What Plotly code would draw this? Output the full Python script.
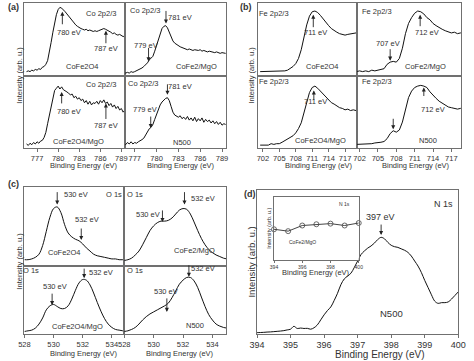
import plotly.graph_objects as go

W, H = 474, 361

# ---------------- data ----------------
co_x = [775.5 + 0.25 * i for i in range(57)]
co_cofe2o4 = [0.06, 0.07, 0.06, 0.08, 0.07, 0.09, 0.08, 0.10, 0.09, 0.12, 0.13, 0.16, 0.21, 0.32, 0.46, 0.60,
              0.73, 0.84, 0.91, 0.94, 0.93, 0.91, 0.88, 0.85, 0.82, 0.78, 0.75, 0.72, 0.70, 0.68, 0.66, 0.65,
              0.64, 0.63, 0.64, 0.62, 0.63, 0.62, 0.61, 0.62, 0.61, 0.62, 0.63, 0.64, 0.65, 0.64, 0.63, 0.61,
              0.60, 0.58, 0.59, 0.57, 0.56, 0.57, 0.55, 0.54, 0.55]
co_cofe2_mgo = [0.05, 0.04, 0.05, 0.04, 0.06, 0.05, 0.06, 0.07, 0.08, 0.10, 0.11, 0.13, 0.15, 0.18, 0.22, 0.24,
                0.27, 0.34, 0.42, 0.51, 0.59, 0.65, 0.68, 0.69, 0.66, 0.59, 0.52, 0.48, 0.45, 0.43, 0.42, 0.40,
                0.39, 0.38, 0.37, 0.36, 0.37, 0.36, 0.35, 0.36, 0.35, 0.35, 0.36, 0.34, 0.35, 0.34, 0.33, 0.34,
                0.33, 0.33, 0.32, 0.33, 0.32, 0.31, 0.32, 0.31, 0.31]
co_cofe2o4_mgo = [0.06, 0.04, 0.07, 0.05, 0.08, 0.06, 0.09, 0.07, 0.10, 0.11, 0.15, 0.22, 0.34, 0.46, 0.60, 0.72,
                  0.80, 0.83, 0.86, 0.82, 0.85, 0.81, 0.80, 0.78, 0.76, 0.74, 0.75, 0.70, 0.72, 0.68, 0.70, 0.66,
                  0.68, 0.63, 0.66, 0.61, 0.65, 0.60, 0.63, 0.62, 0.65, 0.61, 0.66, 0.63, 0.67, 0.62, 0.64, 0.59,
                  0.62, 0.57, 0.60, 0.55, 0.58, 0.53, 0.55, 0.50, 0.53]
co_n500 = [0.07, 0.05, 0.08, 0.06, 0.09, 0.06, 0.08, 0.07, 0.09, 0.10, 0.12, 0.14, 0.18, 0.22, 0.27, 0.29,
           0.33, 0.40, 0.47, 0.55, 0.60, 0.64, 0.67, 0.69, 0.70, 0.66, 0.58, 0.50, 0.46, 0.44, 0.43, 0.45,
           0.41, 0.43, 0.40, 0.44, 0.39, 0.42, 0.38, 0.43, 0.37, 0.41, 0.38, 0.42, 0.36, 0.40, 0.37, 0.39,
           0.35, 0.38, 0.34, 0.37, 0.33, 0.36, 0.32, 0.34, 0.33]

fe_x = [701.5 + 0.5 * i for i in range(36)]
fe_cofe2o4 = [0.06, 0.06, 0.06, 0.06, 0.06, 0.06, 0.06, 0.06, 0.065, 0.07, 0.08, 0.10, 0.13, 0.17, 0.24, 0.36,
              0.53, 0.70, 0.82, 0.88, 0.89, 0.87, 0.83, 0.78, 0.73, 0.69, 0.65, 0.62, 0.60, 0.58, 0.57, 0.56,
              0.57, 0.58, 0.58, 0.59]
fe_cofe2_mgo = [0.06, 0.07, 0.06, 0.07, 0.06, 0.08, 0.07, 0.08, 0.08, 0.10, 0.16, 0.19, 0.20, 0.19, 0.24, 0.38,
                0.58, 0.72, 0.80, 0.86, 0.89, 0.88, 0.85, 0.80, 0.77, 0.72, 0.69, 0.66, 0.64, 0.62, 0.61, 0.59,
                0.60, 0.58, 0.59, 0.58]
fe_cofe2o4_mgo = [0.04, 0.04, 0.05, 0.04, 0.06, 0.05, 0.06, 0.06, 0.08, 0.10, 0.12, 0.14, 0.17, 0.21, 0.27, 0.35,
                  0.48, 0.64, 0.77, 0.84, 0.86, 0.83, 0.79, 0.75, 0.70, 0.67, 0.63, 0.61, 0.58, 0.56, 0.55, 0.53,
                  0.54, 0.52, 0.53, 0.52]
fe_n500 = [0.05, 0.05, 0.06, 0.05, 0.06, 0.06, 0.07, 0.07, 0.08, 0.09, 0.13, 0.20, 0.24, 0.22, 0.25, 0.36,
           0.55, 0.70, 0.79, 0.84, 0.86, 0.87, 0.86, 0.84, 0.78, 0.73, 0.69, 0.65, 0.62, 0.59, 0.57, 0.56,
           0.55, 0.54, 0.55, 0.54]

o_x = [528.0 + 0.25 * i for i in range(29)]
o_cofe2o4 = [0.08, 0.08, 0.09, 0.11, 0.15, 0.26, 0.44, 0.62, 0.73, 0.75, 0.68, 0.53, 0.42, 0.37, 0.34, 0.32,
             0.28, 0.23, 0.19, 0.15, 0.13, 0.12, 0.11, 0.10, 0.09, 0.09, 0.08, 0.08, 0.08]
o_cofe2_mgo = [0.07, 0.08, 0.10, 0.14, 0.19, 0.27, 0.36, 0.45, 0.51, 0.55, 0.57, 0.57, 0.58, 0.61, 0.66, 0.71,
               0.73, 0.72, 0.66, 0.56, 0.45, 0.35, 0.27, 0.21, 0.17, 0.14, 0.12, 0.10, 0.09]
o_cofe2o4_mgo = [0.03, 0.04, 0.05, 0.08, 0.14, 0.23, 0.35, 0.41, 0.43, 0.40, 0.37, 0.37, 0.41, 0.51, 0.64, 0.75,
                 0.80, 0.79, 0.72, 0.60, 0.46, 0.33, 0.22, 0.14, 0.09, 0.06, 0.05, 0.04, 0.04]
o_n500 = [0.03, 0.04, 0.06, 0.09, 0.14, 0.20, 0.25, 0.29, 0.32, 0.35, 0.38, 0.41, 0.45, 0.53, 0.63, 0.73,
          0.79, 0.83, 0.83, 0.78, 0.68, 0.54, 0.40, 0.28, 0.20, 0.14, 0.11, 0.09, 0.08]

n_x = [394.0 + 0.1 * i for i in range(61)]
n_n500 = [0.005, 0.007, 0.008, 0.010, 0.011, 0.013, 0.015, 0.017, 0.020, 0.025, 0.030, 0.050, 0.035, 0.038,
          0.035, 0.036, 0.030, 0.040, 0.060, 0.095, 0.130, 0.160, 0.185, 0.230, 0.280, 0.340, 0.380, 0.400,
          0.420, 0.460, 0.505, 0.550, 0.575, 0.595, 0.610, 0.630, 0.655, 0.670, 0.660, 0.635, 0.615, 0.605,
          0.600, 0.590, 0.580, 0.565, 0.540, 0.505, 0.470, 0.425, 0.370, 0.320, 0.270, 0.225, 0.210, 0.215,
          0.215, 0.220, 0.240, 0.265, 0.290]
inset_x = [394, 395, 396, 397, 398, 399, 400]
inset_y = [0.49, 0.46, 0.55, 0.57, 0.58, 0.55, 0.59]

co_ticks = [777, 780, 783, 786, 789]
fe_ticks = [702, 705, 708, 711, 714, 717]
o_ticks = [528, 530, 532, 534]
n_ticks = [394, 395, 396, 397, 398, 399, 400]
inset_ticks = [394, 396, 398, 400]

FONT = "Liberation Sans, Arial, sans-serif"
TXT = "#333333"
FRAME = "#707070"

# subplot definitions: pixel box (x0, x1, y0, y1), x range, x data, y data, ticks (None = no labels), shape
subs = [
    ((17, 120.6, 3, 76), [775.2, 789.45], co_x, co_cofe2o4, None, "linear"),
    ((120.6, 226, 3, 76), [775.6, 789.6], co_x, co_cofe2_mgo, None, "linear"),
    ((17, 120.6, 76, 148.3), [775.2, 789.45], co_x, co_cofe2o4_mgo, co_ticks, "linear"),
    ((120.6, 226, 76, 148.3), [775.6, 789.6], co_x, co_n500, co_ticks, "linear"),
    ((258.7, 361.3, 3, 76), [701.1, 719.2], fe_x, fe_cofe2o4, None, "linear"),
    ((361.3, 469, 3, 76), [701.6, 718.6], fe_x, fe_cofe2_mgo, None, "linear"),
    ((258.7, 361.3, 76, 148), [701.1, 719.2], fe_x, fe_cofe2o4_mgo, fe_ticks, "linear"),
    ((361.3, 469, 76, 148), [701.6, 718.6], fe_x, fe_n500, fe_ticks, "linear"),
    ((17, 120.3, 187.3, 266), [528, 534.85], o_x, o_cofe2o4, None, "spline"),
    ((120.3, 226, 187.3, 266), [528, 534.95], o_x, o_cofe2_mgo, None, "spline"),
    ((17, 120.3, 266, 333.5), [528, 534.85], o_x, o_cofe2o4_mgo, o_ticks, "spline"),
    ((120.3, 226, 266, 333.5), [528, 534.95], o_x, o_n500, o_ticks, "spline"),
    ((257.7, 466, 190, 333.5), [394, 400], n_x, n_n500, n_ticks, "spline"),
]

fig = go.Figure()
layout = {}


def fx(px):
    return px / W


def fy(py):
    return 1 - py / H


for i, (box, xr, xs, ys, ticks, shape) in enumerate(subs, start=1):
    x0, x1, y0, y1 = box
    sfx = "" if i == 1 else str(i)
    fig.add_trace(go.Scatter(x=xs, y=ys, mode="lines", line=dict(color="#111111", width=1, shape=shape),
                             xaxis="x" + sfx, yaxis="y" + sfx, showlegend=False, hoverinfo="skip"))
    big = (i == 13)
    layout["xaxis" + sfx] = dict(
        domain=[fx(x0), fx(x1)], range=xr, anchor="y" + sfx, showgrid=False, zeroline=False,
        showline=True, mirror=True, linecolor=FRAME, linewidth=1,
        tickmode="array", tickvals=ticks if ticks else [],
        ticks="outside" if ticks else "", ticklen=3, tickcolor=FRAME,
        showticklabels=bool(ticks), tickfont=dict(size=9 if big else 7.5, color=TXT, family=FONT),
    )
    layout["yaxis" + sfx] = dict(
        domain=[fy(y1), fy(y0)], range=[0, 1], anchor="x" + sfx, showgrid=False, zeroline=False,
        showline=True, mirror=True, linecolor=FRAME, linewidth=1, showticklabels=False, ticks="",
    )

# inset
ib = (275.3, 363, 197.3, 260)
fig.add_trace(go.Scatter(x=inset_x, y=inset_y, mode="lines+markers",
                         line=dict(color="#444444", width=1),
                         marker=dict(symbol="circle-open", size=5, color="#444444", line=dict(width=0.8)),
                         xaxis="x14", yaxis="y14", showlegend=False, hoverinfo="skip", cliponaxis=False))
layout["xaxis14"] = dict(domain=[fx(ib[0]), fx(ib[1])], range=[394, 400], anchor="y14", showgrid=False,
                         zeroline=False, showline=True, mirror=True, linecolor=FRAME, linewidth=1,
                         tickmode="array", tickvals=inset_ticks, ticks="outside", ticklen=2, tickcolor=FRAME,
                         tickfont=dict(size=5, color=TXT, family=FONT))
layout["yaxis14"] = dict(domain=[fy(ib[3]), fy(ib[2])], range=[0, 1], anchor="x14", showgrid=False,
                         zeroline=False, showline=True, mirror=True, linecolor=FRAME, linewidth=1,
                         showticklabels=False, ticks="")

annotations = []


def txt(px, py, s, size=7.5, xanchor="center", bold=False, angle=0):
    annotations.append(dict(x=fx(px), y=fy(py), xref="paper", yref="paper", text=("<b>%s</b>" % s) if bold else s,
                            showarrow=False, xanchor=xanchor, yanchor="middle", textangle=angle,
                            font=dict(size=size, color=TXT, family=FONT)))


def arrow(sub, xv, yv, ay):
    sfx = "" if sub == 1 else str(sub)
    annotations.append(dict(x=xv, y=yv, xref="x" + sfx, yref="y" + sfx, text="", showarrow=True,
                            ax=0, ay=ay, arrowhead=2, arrowsize=0.9, arrowwidth=0.9, arrowcolor="#222222"))


# panel labels
txt(6, 7, "(a)", 9, bold=True)
txt(246, 7, "(b)", 9, bold=True)
txt(6, 184, "(c)", 9, bold=True)
txt(250, 194, "(d)", 9, bold=True)

# axis titles
for (px, py) in [(79, 165.5), (178.7, 165.5), (322, 165), (422, 165), (79, 353.5), (178.5, 353.5)]:
    txt(px, py, "Binding Energy (eV)", 7.5)
txt(384.5, 354.5, "Binding Energy (eV)", 10)
txt(11, 75, "Intensity (arb. u.)", 7.5, angle=-90)
txt(252, 75, "Intensity (arb. u.)", 7.5, angle=-90)
txt(11, 261, "Intensity (arb. u.)", 7.5, angle=-90)
txt(251, 262, "Intensity (arb. u.)", 9.5, angle=-90)

# panel (a)
txt(96.7, 13.3, "Co 2p2/3"); txt(63, 32, "780 eV"); txt(101.7, 48.3, "787 eV"); txt(76.7, 66.7, "CoFe2O4")
arrow(1, 780.6, 0.88, 14); arrow(1, 786.8, 0.62, 14)
txt(141.7, 10.7, "Co 2p2/3"); txt(178, 17.7, "781 eV"); txt(143, 45, "779 eV"); txt(195, 66, "CoFe2/MgO")
arrow(2, 781.3, 0.72, -14); arrow(2, 778.9, 0.2, -15)
txt(96.7, 85, "Co 2p2/3"); txt(63, 111.7, "780 eV"); txt(101.7, 125, "787 eV"); txt(73.3, 141.7, "CoFe2O4/MgO")
arrow(3, 780.5, 0.78, 13); arrow(3, 786.8, 0.62, 17)
txt(140, 83.3, "Co 2p2/3"); txt(178, 86.7, "781 eV"); txt(141.7, 110, "779 eV"); txt(180, 142.7, "N500")
arrow(4, 781.5, 0.74, -12); arrow(4, 779.2, 0.28, -13)

# panel (b)
txt(275.3, 13.3, "Fe 2p2/3"); txt(318.7, 32.3, "711 eV"); txt(325.3, 66.7, "CoFe2O4")
arrow(5, 711.2, 0.84, 14)
txt(382, 11.7, "Fe 2p2/3"); txt(433.7, 32.3, "712 eV"); txt(393.7, 43.3, "707 eV"); txt(432, 66.7, "CoFe2/MgO")
arrow(6, 711.9, 0.84, 13); arrow(6, 707.0, 0.21, -13)
txt(275.3, 81.7, "Fe 2p2/3"); txt(318.7, 101.7, "711 eV"); txt(323.7, 140, "CoFe2O4/MgO")
arrow(7, 711.3, 0.80, 11)
txt(382, 81.7, "Fe 2p2/3"); txt(440, 110, "712 eV"); txt(435, 140, "N500")
arrow(8, 712.5, 0.84, 10); arrow(8, 707.5, 0.26, -12)

# panel (c)
txt(70, 195, "530 eV"); txt(110, 195, "O 1s"); txt(81.7, 220, "532 eV"); txt(58.3, 252.7, "CoFe2O4")
arrow(9, 530.25, 0.78, -14); arrow(9, 531.9, 0.33, -13)
txt(131.7, 195, "O 1s"); txt(201.7, 198.3, "532 eV"); txt(145, 214.3, "530 eV"); txt(193.3, 250, "CoFe2/MgO")
arrow(10, 532.1, 0.78, -14); arrow(10, 530.6, 0.56, -13)
txt(23.3, 270.7, "O 1s"); txt(48.3, 286.7, "530 eV"); txt(96.7, 272.3, "532 eV"); txt(71.7, 326, "CoFe2O4/MgO")
arrow(11, 529.9, 0.42, -13); arrow(11, 532.1, 0.82, -11)
txt(131.7, 270.7, "O 1s"); txt(201.7, 268.3, "532 eV"); txt(163.3, 291.7, "530 eV"); txt(193.3, 325, "N500")
arrow(12, 532.4, 0.84, -13); arrow(12, 530.9, 0.32, -15)

# panel (d)
txt(450.3, 204, "N 1s", 9); txt(386, 217.3, "397 eV", 9); txt(397, 313.3, "N500", 9.5)
arrow(13, 397.7, 0.686, -12)
txt(348.7, 204, "N 1s", 5); txt(305.3, 241.7, "CoFe2/MgO", 5)
txt(318.7, 272, "Binding Energy (eV)", 7.5)
txt(269.3, 228.6, "Intensity (arb. u.)", 5.5, angle=-90)

layout["annotations"] = annotations
fig.update_layout(width=W, height=H, margin=dict(l=0, r=0, t=0, b=0), paper_bgcolor="white",
                  plot_bgcolor="white", showlegend=False, hovermode=False, **layout)
fig.write_html("out.html", config={"displayModeBar": False, "staticPlot": True},
               post_script="document.body.style.margin='0px';document.body.style.overflow='hidden';")
